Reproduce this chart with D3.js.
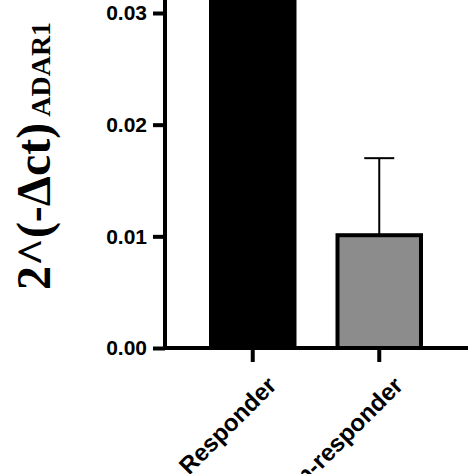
<!DOCTYPE html><html><head><script src="https://cdn.jsdelivr.net/npm/d3@7"></script>
<style>body{margin:0;background:#fff}</style></head><body><script>
const categories=["Responder","Non-responder"];
const values=[0.04,0.0101];
const errors=[0,0.0069];
const colors=["#000000","#8c8c8c"];
const ticks=[0,0.01,0.02,0.03];
const svg=d3.select("body").append("svg").attr("width",474).attr("height",474);
const y=d3.scaleLinear().domain([0,0.03]).range([348,13]);
const x=d3.scaleBand().domain(categories).range([211,421]).paddingInner(0.34).paddingOuter(0);
const g=svg.append("g");
categories.forEach((c,i)=>{if(!errors[i])return;const cx=x(c)+x.bandwidth()/2;
g.append("line").attr("x1",cx).attr("x2",cx).attr("y1",y(values[i])).attr("y2",y(values[i]+errors[i])).attr("stroke","#000").attr("stroke-width",2);
g.append("line").attr("x1",cx-15).attr("x2",cx+15).attr("y1",y(values[i]+errors[i])).attr("y2",y(values[i]+errors[i])).attr("stroke","#000").attr("stroke-width",2);});
g.selectAll("rect").data(categories).join("rect").attr("x",d=>x(d)).attr("width",x.bandwidth())
 .attr("y",(d,i)=>y(values[i])).attr("height",(d,i)=>y(0)-y(values[i])).attr("fill",(d,i)=>colors[i]).attr("stroke","#000").attr("stroke-width",4);
const ya=svg.append("g").attr("transform","translate(165,0)").call(d3.axisLeft(y).tickValues(ticks).tickFormat(d3.format(".2f")).tickSize(12).tickSizeOuter(0));
ya.select(".domain").attr("stroke-width",4).attr("d","M0,-5V350");
ya.selectAll(".tick line").attr("stroke-width",4);
ya.selectAll("text").attr("font-family","Arial").attr("font-weight","bold").attr("font-size",21).attr("x",-18);
const xa=svg.append("g").attr("transform","translate(0,348)").call(d3.axisBottom(x).tickSize(14).tickSizeOuter(0));
xa.select(".domain").attr("stroke-width",4).attr("d","M163,0H468");
xa.selectAll(".tick line").attr("stroke-width",4);
xa.selectAll("text").attr("font-family","Arial").attr("font-weight","bold").attr("font-size",24)
 .attr("text-anchor","end").attr("transform","translate(12,26) rotate(-45)").attr("dy","0.35em").attr("y",10).attr("x",0);
const t=svg.append("text").attr("transform","translate(50,290) rotate(-90)").attr("font-family","Liberation Serif").attr("font-weight","bold").attr("font-size",48);
t.append("tspan").text("2^(-Δct)");
t.append("tspan").attr("font-size",28).attr("dx",6).text("ADAR1");
</script></body></html>
